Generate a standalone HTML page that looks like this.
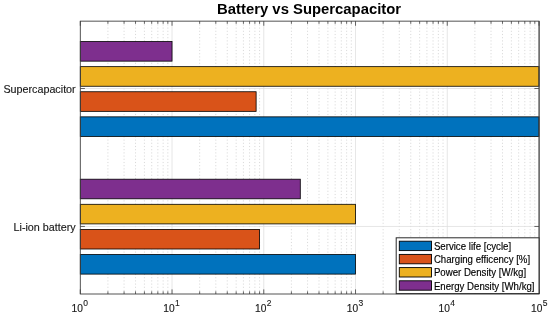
<!DOCTYPE html>
<html lang="en"><head><meta charset="utf-8"><title>Battery vs Supercapacitor</title>
<style>html,body{margin:0;padding:0;background:#fff}body{width:550px;height:315px;overflow:hidden}</style></head>
<body>
<svg width="550" height="315" viewBox="0 0 550 315" style="display:block">
<rect width="550" height="315" fill="#fff"/>
<line x1="107.92" y1="21.15" x2="107.92" y2="294.0" stroke="#c8c8c8" stroke-width="0.7" stroke-dasharray="1.1 2.1"/>
<line x1="124.07" y1="21.15" x2="124.07" y2="294.0" stroke="#c8c8c8" stroke-width="0.7" stroke-dasharray="1.1 2.1"/>
<line x1="135.53" y1="21.15" x2="135.53" y2="294.0" stroke="#c8c8c8" stroke-width="0.7" stroke-dasharray="1.1 2.1"/>
<line x1="144.42" y1="21.15" x2="144.42" y2="294.0" stroke="#c8c8c8" stroke-width="0.7" stroke-dasharray="1.1 2.1"/>
<line x1="151.69" y1="21.15" x2="151.69" y2="294.0" stroke="#c8c8c8" stroke-width="0.7" stroke-dasharray="1.1 2.1"/>
<line x1="157.83" y1="21.15" x2="157.83" y2="294.0" stroke="#c8c8c8" stroke-width="0.7" stroke-dasharray="1.1 2.1"/>
<line x1="163.15" y1="21.15" x2="163.15" y2="294.0" stroke="#c8c8c8" stroke-width="0.7" stroke-dasharray="1.1 2.1"/>
<line x1="167.84" y1="21.15" x2="167.84" y2="294.0" stroke="#c8c8c8" stroke-width="0.7" stroke-dasharray="1.1 2.1"/>
<line x1="199.66" y1="21.15" x2="199.66" y2="294.0" stroke="#c8c8c8" stroke-width="0.7" stroke-dasharray="1.1 2.1"/>
<line x1="215.81" y1="21.15" x2="215.81" y2="294.0" stroke="#c8c8c8" stroke-width="0.7" stroke-dasharray="1.1 2.1"/>
<line x1="227.27" y1="21.15" x2="227.27" y2="294.0" stroke="#c8c8c8" stroke-width="0.7" stroke-dasharray="1.1 2.1"/>
<line x1="236.16" y1="21.15" x2="236.16" y2="294.0" stroke="#c8c8c8" stroke-width="0.7" stroke-dasharray="1.1 2.1"/>
<line x1="243.43" y1="21.15" x2="243.43" y2="294.0" stroke="#c8c8c8" stroke-width="0.7" stroke-dasharray="1.1 2.1"/>
<line x1="249.57" y1="21.15" x2="249.57" y2="294.0" stroke="#c8c8c8" stroke-width="0.7" stroke-dasharray="1.1 2.1"/>
<line x1="254.89" y1="21.15" x2="254.89" y2="294.0" stroke="#c8c8c8" stroke-width="0.7" stroke-dasharray="1.1 2.1"/>
<line x1="259.58" y1="21.15" x2="259.58" y2="294.0" stroke="#c8c8c8" stroke-width="0.7" stroke-dasharray="1.1 2.1"/>
<line x1="291.40" y1="21.15" x2="291.40" y2="294.0" stroke="#c8c8c8" stroke-width="0.7" stroke-dasharray="1.1 2.1"/>
<line x1="307.55" y1="21.15" x2="307.55" y2="294.0" stroke="#c8c8c8" stroke-width="0.7" stroke-dasharray="1.1 2.1"/>
<line x1="319.01" y1="21.15" x2="319.01" y2="294.0" stroke="#c8c8c8" stroke-width="0.7" stroke-dasharray="1.1 2.1"/>
<line x1="327.90" y1="21.15" x2="327.90" y2="294.0" stroke="#c8c8c8" stroke-width="0.7" stroke-dasharray="1.1 2.1"/>
<line x1="335.17" y1="21.15" x2="335.17" y2="294.0" stroke="#c8c8c8" stroke-width="0.7" stroke-dasharray="1.1 2.1"/>
<line x1="341.31" y1="21.15" x2="341.31" y2="294.0" stroke="#c8c8c8" stroke-width="0.7" stroke-dasharray="1.1 2.1"/>
<line x1="346.63" y1="21.15" x2="346.63" y2="294.0" stroke="#c8c8c8" stroke-width="0.7" stroke-dasharray="1.1 2.1"/>
<line x1="351.32" y1="21.15" x2="351.32" y2="294.0" stroke="#c8c8c8" stroke-width="0.7" stroke-dasharray="1.1 2.1"/>
<line x1="383.14" y1="21.15" x2="383.14" y2="294.0" stroke="#c8c8c8" stroke-width="0.7" stroke-dasharray="1.1 2.1"/>
<line x1="399.29" y1="21.15" x2="399.29" y2="294.0" stroke="#c8c8c8" stroke-width="0.7" stroke-dasharray="1.1 2.1"/>
<line x1="410.75" y1="21.15" x2="410.75" y2="294.0" stroke="#c8c8c8" stroke-width="0.7" stroke-dasharray="1.1 2.1"/>
<line x1="419.64" y1="21.15" x2="419.64" y2="294.0" stroke="#c8c8c8" stroke-width="0.7" stroke-dasharray="1.1 2.1"/>
<line x1="426.91" y1="21.15" x2="426.91" y2="294.0" stroke="#c8c8c8" stroke-width="0.7" stroke-dasharray="1.1 2.1"/>
<line x1="433.05" y1="21.15" x2="433.05" y2="294.0" stroke="#c8c8c8" stroke-width="0.7" stroke-dasharray="1.1 2.1"/>
<line x1="438.37" y1="21.15" x2="438.37" y2="294.0" stroke="#c8c8c8" stroke-width="0.7" stroke-dasharray="1.1 2.1"/>
<line x1="443.06" y1="21.15" x2="443.06" y2="294.0" stroke="#c8c8c8" stroke-width="0.7" stroke-dasharray="1.1 2.1"/>
<line x1="474.88" y1="21.15" x2="474.88" y2="294.0" stroke="#c8c8c8" stroke-width="0.7" stroke-dasharray="1.1 2.1"/>
<line x1="491.03" y1="21.15" x2="491.03" y2="294.0" stroke="#c8c8c8" stroke-width="0.7" stroke-dasharray="1.1 2.1"/>
<line x1="502.49" y1="21.15" x2="502.49" y2="294.0" stroke="#c8c8c8" stroke-width="0.7" stroke-dasharray="1.1 2.1"/>
<line x1="511.38" y1="21.15" x2="511.38" y2="294.0" stroke="#c8c8c8" stroke-width="0.7" stroke-dasharray="1.1 2.1"/>
<line x1="518.65" y1="21.15" x2="518.65" y2="294.0" stroke="#c8c8c8" stroke-width="0.7" stroke-dasharray="1.1 2.1"/>
<line x1="524.79" y1="21.15" x2="524.79" y2="294.0" stroke="#c8c8c8" stroke-width="0.7" stroke-dasharray="1.1 2.1"/>
<line x1="530.11" y1="21.15" x2="530.11" y2="294.0" stroke="#c8c8c8" stroke-width="0.7" stroke-dasharray="1.1 2.1"/>
<line x1="534.80" y1="21.15" x2="534.80" y2="294.0" stroke="#c8c8c8" stroke-width="0.7" stroke-dasharray="1.1 2.1"/>
<line x1="172.04" y1="21.15" x2="172.04" y2="294.0" stroke="#dfdfdf" stroke-width="0.8"/>
<line x1="263.78" y1="21.15" x2="263.78" y2="294.0" stroke="#dfdfdf" stroke-width="0.8"/>
<line x1="355.52" y1="21.15" x2="355.52" y2="294.0" stroke="#dfdfdf" stroke-width="0.8"/>
<line x1="447.26" y1="21.15" x2="447.26" y2="294.0" stroke="#dfdfdf" stroke-width="0.8"/>
<line x1="80.3" y1="226.45" x2="539.0" y2="226.45" stroke="#dfdfdf" stroke-width="0.8"/>
<line x1="80.3" y1="88.50" x2="539.0" y2="88.50" stroke="#dfdfdf" stroke-width="0.8"/>
<clipPath id="c"><rect x="80.3" y="21.15" width="458.7" height="272.85"/></clipPath>
<g>
 <rect x="80.3" y="254.50" width="275.22" height="19.60" fill="#0072BD" stroke="#000" stroke-width="0.8"/>
 <rect x="80.3" y="229.40" width="179.28" height="19.60" fill="#D95319" stroke="#000" stroke-width="0.8"/>
 <rect x="80.3" y="204.30" width="275.22" height="19.60" fill="#EDB120" stroke="#000" stroke-width="0.8"/>
 <rect x="80.3" y="179.20" width="219.99" height="19.60" fill="#7E2F8E" stroke="#000" stroke-width="0.8"/>
 <rect x="80.3" y="116.85" width="458.70" height="19.60" fill="#0072BD" stroke="#000" stroke-width="0.8"/>
 <rect x="80.3" y="91.75" width="175.82" height="19.60" fill="#D95319" stroke="#000" stroke-width="0.8"/>
 <rect x="80.3" y="66.65" width="458.70" height="19.60" fill="#EDB120" stroke="#000" stroke-width="0.8"/>
 <rect x="80.3" y="41.55" width="91.74" height="19.60" fill="#7E2F8E" stroke="#000" stroke-width="0.8"/>
</g>
<line x1="80.30" y1="294.0" x2="80.30" y2="289.4" stroke="#404040" stroke-width="0.8"/>
<line x1="80.30" y1="21.15" x2="80.30" y2="25.75" stroke="#404040" stroke-width="0.8"/>
<line x1="107.92" y1="294.0" x2="107.92" y2="291.3" stroke="#404040" stroke-width="0.8"/>
<line x1="107.92" y1="21.15" x2="107.92" y2="23.849999999999998" stroke="#404040" stroke-width="0.8"/>
<line x1="124.07" y1="294.0" x2="124.07" y2="291.3" stroke="#404040" stroke-width="0.8"/>
<line x1="124.07" y1="21.15" x2="124.07" y2="23.849999999999998" stroke="#404040" stroke-width="0.8"/>
<line x1="135.53" y1="294.0" x2="135.53" y2="291.3" stroke="#404040" stroke-width="0.8"/>
<line x1="135.53" y1="21.15" x2="135.53" y2="23.849999999999998" stroke="#404040" stroke-width="0.8"/>
<line x1="144.42" y1="294.0" x2="144.42" y2="291.3" stroke="#404040" stroke-width="0.8"/>
<line x1="144.42" y1="21.15" x2="144.42" y2="23.849999999999998" stroke="#404040" stroke-width="0.8"/>
<line x1="151.69" y1="294.0" x2="151.69" y2="291.3" stroke="#404040" stroke-width="0.8"/>
<line x1="151.69" y1="21.15" x2="151.69" y2="23.849999999999998" stroke="#404040" stroke-width="0.8"/>
<line x1="157.83" y1="294.0" x2="157.83" y2="291.3" stroke="#404040" stroke-width="0.8"/>
<line x1="157.83" y1="21.15" x2="157.83" y2="23.849999999999998" stroke="#404040" stroke-width="0.8"/>
<line x1="163.15" y1="294.0" x2="163.15" y2="291.3" stroke="#404040" stroke-width="0.8"/>
<line x1="163.15" y1="21.15" x2="163.15" y2="23.849999999999998" stroke="#404040" stroke-width="0.8"/>
<line x1="167.84" y1="294.0" x2="167.84" y2="291.3" stroke="#404040" stroke-width="0.8"/>
<line x1="167.84" y1="21.15" x2="167.84" y2="23.849999999999998" stroke="#404040" stroke-width="0.8"/>
<line x1="172.04" y1="294.0" x2="172.04" y2="289.4" stroke="#404040" stroke-width="0.8"/>
<line x1="172.04" y1="21.15" x2="172.04" y2="25.75" stroke="#404040" stroke-width="0.8"/>
<line x1="199.66" y1="294.0" x2="199.66" y2="291.3" stroke="#404040" stroke-width="0.8"/>
<line x1="199.66" y1="21.15" x2="199.66" y2="23.849999999999998" stroke="#404040" stroke-width="0.8"/>
<line x1="215.81" y1="294.0" x2="215.81" y2="291.3" stroke="#404040" stroke-width="0.8"/>
<line x1="215.81" y1="21.15" x2="215.81" y2="23.849999999999998" stroke="#404040" stroke-width="0.8"/>
<line x1="227.27" y1="294.0" x2="227.27" y2="291.3" stroke="#404040" stroke-width="0.8"/>
<line x1="227.27" y1="21.15" x2="227.27" y2="23.849999999999998" stroke="#404040" stroke-width="0.8"/>
<line x1="236.16" y1="294.0" x2="236.16" y2="291.3" stroke="#404040" stroke-width="0.8"/>
<line x1="236.16" y1="21.15" x2="236.16" y2="23.849999999999998" stroke="#404040" stroke-width="0.8"/>
<line x1="243.43" y1="294.0" x2="243.43" y2="291.3" stroke="#404040" stroke-width="0.8"/>
<line x1="243.43" y1="21.15" x2="243.43" y2="23.849999999999998" stroke="#404040" stroke-width="0.8"/>
<line x1="249.57" y1="294.0" x2="249.57" y2="291.3" stroke="#404040" stroke-width="0.8"/>
<line x1="249.57" y1="21.15" x2="249.57" y2="23.849999999999998" stroke="#404040" stroke-width="0.8"/>
<line x1="254.89" y1="294.0" x2="254.89" y2="291.3" stroke="#404040" stroke-width="0.8"/>
<line x1="254.89" y1="21.15" x2="254.89" y2="23.849999999999998" stroke="#404040" stroke-width="0.8"/>
<line x1="259.58" y1="294.0" x2="259.58" y2="291.3" stroke="#404040" stroke-width="0.8"/>
<line x1="259.58" y1="21.15" x2="259.58" y2="23.849999999999998" stroke="#404040" stroke-width="0.8"/>
<line x1="263.78" y1="294.0" x2="263.78" y2="289.4" stroke="#404040" stroke-width="0.8"/>
<line x1="263.78" y1="21.15" x2="263.78" y2="25.75" stroke="#404040" stroke-width="0.8"/>
<line x1="291.40" y1="294.0" x2="291.40" y2="291.3" stroke="#404040" stroke-width="0.8"/>
<line x1="291.40" y1="21.15" x2="291.40" y2="23.849999999999998" stroke="#404040" stroke-width="0.8"/>
<line x1="307.55" y1="294.0" x2="307.55" y2="291.3" stroke="#404040" stroke-width="0.8"/>
<line x1="307.55" y1="21.15" x2="307.55" y2="23.849999999999998" stroke="#404040" stroke-width="0.8"/>
<line x1="319.01" y1="294.0" x2="319.01" y2="291.3" stroke="#404040" stroke-width="0.8"/>
<line x1="319.01" y1="21.15" x2="319.01" y2="23.849999999999998" stroke="#404040" stroke-width="0.8"/>
<line x1="327.90" y1="294.0" x2="327.90" y2="291.3" stroke="#404040" stroke-width="0.8"/>
<line x1="327.90" y1="21.15" x2="327.90" y2="23.849999999999998" stroke="#404040" stroke-width="0.8"/>
<line x1="335.17" y1="294.0" x2="335.17" y2="291.3" stroke="#404040" stroke-width="0.8"/>
<line x1="335.17" y1="21.15" x2="335.17" y2="23.849999999999998" stroke="#404040" stroke-width="0.8"/>
<line x1="341.31" y1="294.0" x2="341.31" y2="291.3" stroke="#404040" stroke-width="0.8"/>
<line x1="341.31" y1="21.15" x2="341.31" y2="23.849999999999998" stroke="#404040" stroke-width="0.8"/>
<line x1="346.63" y1="294.0" x2="346.63" y2="291.3" stroke="#404040" stroke-width="0.8"/>
<line x1="346.63" y1="21.15" x2="346.63" y2="23.849999999999998" stroke="#404040" stroke-width="0.8"/>
<line x1="351.32" y1="294.0" x2="351.32" y2="291.3" stroke="#404040" stroke-width="0.8"/>
<line x1="351.32" y1="21.15" x2="351.32" y2="23.849999999999998" stroke="#404040" stroke-width="0.8"/>
<line x1="355.52" y1="294.0" x2="355.52" y2="289.4" stroke="#404040" stroke-width="0.8"/>
<line x1="355.52" y1="21.15" x2="355.52" y2="25.75" stroke="#404040" stroke-width="0.8"/>
<line x1="383.14" y1="294.0" x2="383.14" y2="291.3" stroke="#404040" stroke-width="0.8"/>
<line x1="383.14" y1="21.15" x2="383.14" y2="23.849999999999998" stroke="#404040" stroke-width="0.8"/>
<line x1="399.29" y1="294.0" x2="399.29" y2="291.3" stroke="#404040" stroke-width="0.8"/>
<line x1="399.29" y1="21.15" x2="399.29" y2="23.849999999999998" stroke="#404040" stroke-width="0.8"/>
<line x1="410.75" y1="294.0" x2="410.75" y2="291.3" stroke="#404040" stroke-width="0.8"/>
<line x1="410.75" y1="21.15" x2="410.75" y2="23.849999999999998" stroke="#404040" stroke-width="0.8"/>
<line x1="419.64" y1="294.0" x2="419.64" y2="291.3" stroke="#404040" stroke-width="0.8"/>
<line x1="419.64" y1="21.15" x2="419.64" y2="23.849999999999998" stroke="#404040" stroke-width="0.8"/>
<line x1="426.91" y1="294.0" x2="426.91" y2="291.3" stroke="#404040" stroke-width="0.8"/>
<line x1="426.91" y1="21.15" x2="426.91" y2="23.849999999999998" stroke="#404040" stroke-width="0.8"/>
<line x1="433.05" y1="294.0" x2="433.05" y2="291.3" stroke="#404040" stroke-width="0.8"/>
<line x1="433.05" y1="21.15" x2="433.05" y2="23.849999999999998" stroke="#404040" stroke-width="0.8"/>
<line x1="438.37" y1="294.0" x2="438.37" y2="291.3" stroke="#404040" stroke-width="0.8"/>
<line x1="438.37" y1="21.15" x2="438.37" y2="23.849999999999998" stroke="#404040" stroke-width="0.8"/>
<line x1="443.06" y1="294.0" x2="443.06" y2="291.3" stroke="#404040" stroke-width="0.8"/>
<line x1="443.06" y1="21.15" x2="443.06" y2="23.849999999999998" stroke="#404040" stroke-width="0.8"/>
<line x1="447.26" y1="294.0" x2="447.26" y2="289.4" stroke="#404040" stroke-width="0.8"/>
<line x1="447.26" y1="21.15" x2="447.26" y2="25.75" stroke="#404040" stroke-width="0.8"/>
<line x1="474.88" y1="294.0" x2="474.88" y2="291.3" stroke="#404040" stroke-width="0.8"/>
<line x1="474.88" y1="21.15" x2="474.88" y2="23.849999999999998" stroke="#404040" stroke-width="0.8"/>
<line x1="491.03" y1="294.0" x2="491.03" y2="291.3" stroke="#404040" stroke-width="0.8"/>
<line x1="491.03" y1="21.15" x2="491.03" y2="23.849999999999998" stroke="#404040" stroke-width="0.8"/>
<line x1="502.49" y1="294.0" x2="502.49" y2="291.3" stroke="#404040" stroke-width="0.8"/>
<line x1="502.49" y1="21.15" x2="502.49" y2="23.849999999999998" stroke="#404040" stroke-width="0.8"/>
<line x1="511.38" y1="294.0" x2="511.38" y2="291.3" stroke="#404040" stroke-width="0.8"/>
<line x1="511.38" y1="21.15" x2="511.38" y2="23.849999999999998" stroke="#404040" stroke-width="0.8"/>
<line x1="518.65" y1="294.0" x2="518.65" y2="291.3" stroke="#404040" stroke-width="0.8"/>
<line x1="518.65" y1="21.15" x2="518.65" y2="23.849999999999998" stroke="#404040" stroke-width="0.8"/>
<line x1="524.79" y1="294.0" x2="524.79" y2="291.3" stroke="#404040" stroke-width="0.8"/>
<line x1="524.79" y1="21.15" x2="524.79" y2="23.849999999999998" stroke="#404040" stroke-width="0.8"/>
<line x1="530.11" y1="294.0" x2="530.11" y2="291.3" stroke="#404040" stroke-width="0.8"/>
<line x1="530.11" y1="21.15" x2="530.11" y2="23.849999999999998" stroke="#404040" stroke-width="0.8"/>
<line x1="534.80" y1="294.0" x2="534.80" y2="291.3" stroke="#404040" stroke-width="0.8"/>
<line x1="534.80" y1="21.15" x2="534.80" y2="23.849999999999998" stroke="#404040" stroke-width="0.8"/>
<line x1="539.00" y1="294.0" x2="539.00" y2="289.4" stroke="#404040" stroke-width="0.8"/>
<line x1="539.00" y1="21.15" x2="539.00" y2="25.75" stroke="#404040" stroke-width="0.8"/>
<line x1="80.3" y1="226.45" x2="84.89999999999999" y2="226.45" stroke="#404040" stroke-width="0.8"/>
<line x1="539.0" y1="226.45" x2="534.4" y2="226.45" stroke="#404040" stroke-width="0.8"/>
<line x1="80.3" y1="88.50" x2="84.89999999999999" y2="88.50" stroke="#404040" stroke-width="0.8"/>
<line x1="539.0" y1="88.50" x2="534.4" y2="88.50" stroke="#404040" stroke-width="0.8"/>
<rect x="80.3" y="21.15" width="458.7" height="272.85" fill="none" stroke="#404040" stroke-width="0.9"/>
<line x1="539.25" y1="21.15" x2="539.25" y2="294.0" stroke="#404040" stroke-width="0.7"/>
<text x="217.1" y="13.55" textLength="184" lengthAdjust="spacingAndGlyphs" font-family="Liberation Sans, sans-serif" font-size="14.3" font-weight="bold" fill="#000">Battery vs Supercapacitor</text>
<text x="75.7" y="93" text-anchor="end" font-family="Liberation Sans, sans-serif" font-size="10.75" fill="#1a1a1a" stroke="#1a1a1a" stroke-width="0.15">Supercapacitor</text>
<text x="75.7" y="231" text-anchor="end" font-family="Liberation Sans, sans-serif" font-size="10.75" fill="#1a1a1a" stroke="#1a1a1a" stroke-width="0.15">Li-ion battery</text>
<text x="71.60" y="311.55" font-family="Liberation Sans, sans-serif" font-size="10.2" fill="#1a1a1a" stroke="#1a1a1a" stroke-width="0.15">10</text>
<text x="83.30" y="306.3" font-family="Liberation Sans, sans-serif" font-size="8.5" fill="#1a1a1a" stroke="#1a1a1a" stroke-width="0.12">0</text>
<text x="163.34" y="311.55" font-family="Liberation Sans, sans-serif" font-size="10.2" fill="#1a1a1a" stroke="#1a1a1a" stroke-width="0.15">10</text>
<text x="175.04" y="306.3" font-family="Liberation Sans, sans-serif" font-size="8.5" fill="#1a1a1a" stroke="#1a1a1a" stroke-width="0.12">1</text>
<text x="255.08" y="311.55" font-family="Liberation Sans, sans-serif" font-size="10.2" fill="#1a1a1a" stroke="#1a1a1a" stroke-width="0.15">10</text>
<text x="266.78" y="306.3" font-family="Liberation Sans, sans-serif" font-size="8.5" fill="#1a1a1a" stroke="#1a1a1a" stroke-width="0.12">2</text>
<text x="346.82" y="311.55" font-family="Liberation Sans, sans-serif" font-size="10.2" fill="#1a1a1a" stroke="#1a1a1a" stroke-width="0.15">10</text>
<text x="358.52" y="306.3" font-family="Liberation Sans, sans-serif" font-size="8.5" fill="#1a1a1a" stroke="#1a1a1a" stroke-width="0.12">3</text>
<text x="438.56" y="311.55" font-family="Liberation Sans, sans-serif" font-size="10.2" fill="#1a1a1a" stroke="#1a1a1a" stroke-width="0.15">10</text>
<text x="450.26" y="306.3" font-family="Liberation Sans, sans-serif" font-size="8.5" fill="#1a1a1a" stroke="#1a1a1a" stroke-width="0.12">4</text>
<text x="531.00" y="311.55" font-family="Liberation Sans, sans-serif" font-size="10.2" fill="#1a1a1a" stroke="#1a1a1a" stroke-width="0.15">10</text>
<text x="542.70" y="306.3" font-family="Liberation Sans, sans-serif" font-size="8.5" fill="#1a1a1a" stroke="#1a1a1a" stroke-width="0.12">5</text>
<rect x="396.2" y="237.8" width="142.80" height="55.80" fill="#fff" stroke="#2a2a2a" stroke-width="1"/>
<rect x="399.3" y="241.20" width="32.2" height="9.4" fill="#0072BD" stroke="#000" stroke-width="0.9"/>
<text x="433.9" y="250.00" textLength="77.2" lengthAdjust="spacingAndGlyphs" font-family="Liberation Sans, sans-serif" font-size="10.0" fill="#000" stroke="#000" stroke-width="0.15">Service life [cycle]</text>
<rect x="399.3" y="254.40" width="32.2" height="9.4" fill="#D95319" stroke="#000" stroke-width="0.9"/>
<text x="433.9" y="263.20" textLength="96.2" lengthAdjust="spacingAndGlyphs" font-family="Liberation Sans, sans-serif" font-size="10.0" fill="#000" stroke="#000" stroke-width="0.15">Charging efficency [%]</text>
<rect x="399.3" y="267.60" width="32.2" height="9.4" fill="#EDB120" stroke="#000" stroke-width="0.9"/>
<text x="433.9" y="276.40" textLength="92.2" lengthAdjust="spacingAndGlyphs" font-family="Liberation Sans, sans-serif" font-size="10.0" fill="#000" stroke="#000" stroke-width="0.15">Power Density [W/kg]</text>
<rect x="399.3" y="280.80" width="32.2" height="9.4" fill="#7E2F8E" stroke="#000" stroke-width="0.9"/>
<text x="433.9" y="289.60" textLength="100.6" lengthAdjust="spacingAndGlyphs" font-family="Liberation Sans, sans-serif" font-size="10.0" fill="#000" stroke="#000" stroke-width="0.15">Energy Density [Wh/kg]</text>
</svg>
</body></html>
